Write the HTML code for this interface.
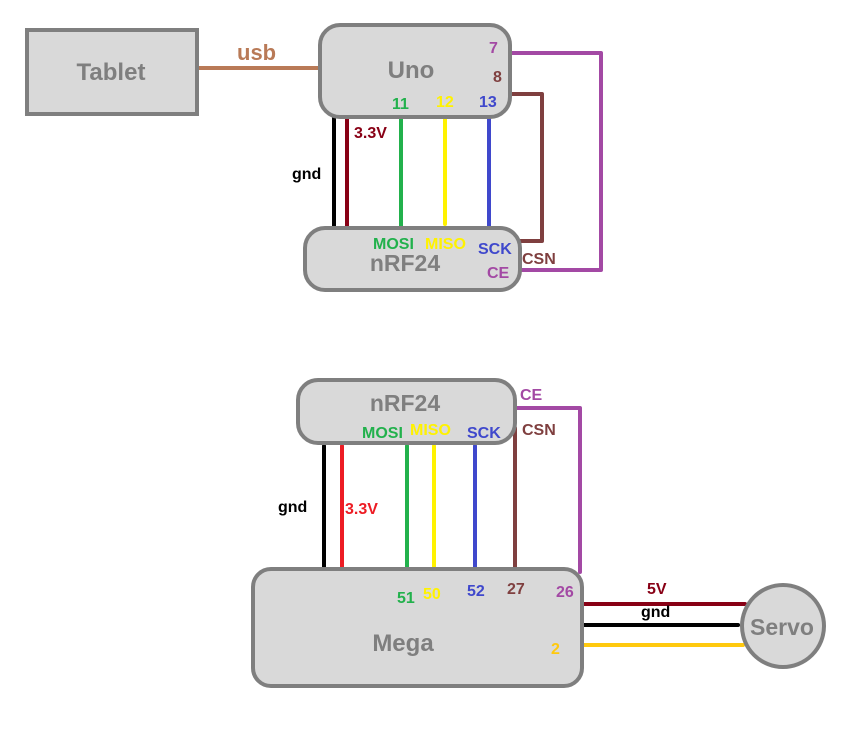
<!DOCTYPE html>
<html><head><meta charset="utf-8"><style>
html,body{margin:0;padding:0;background:#fff;}
svg{display:block;}
text{font-family:"Liberation Sans",sans-serif;}
</style></head><body>
<svg width="856" height="754" viewBox="0 0 856 754" xmlns="http://www.w3.org/2000/svg">
<g stroke-width="4" fill="none" stroke-linecap="round" stroke-linejoin="round">
<!-- top -->
<line x1="197" y1="68" x2="320" y2="68" stroke="#b97a57"/>
<polyline points="508,53 601,53 601,270 518,270" stroke="#a349a4"/>
<polyline points="508,94 542,94 542,241 518,241" stroke="#7f3f3f"/>
<line x1="334" y1="117" x2="334" y2="228" stroke="#000"/>
<line x1="347" y1="117" x2="347" y2="229" stroke="#880015"/>
<line x1="401" y1="117" x2="401" y2="230" stroke="#22b14c"/>
<line x1="445" y1="113" x2="445" y2="224" stroke="#fff200"/>
<line x1="489" y1="117" x2="489" y2="230" stroke="#3f48cc"/>
<!-- bottom -->
<line x1="324" y1="446" x2="324" y2="571" stroke="#000"/>
<line x1="342" y1="446" x2="342" y2="571" stroke="#ed1c24"/>
<line x1="407" y1="446" x2="407" y2="568" stroke="#22b14c"/>
<line x1="434" y1="446" x2="434" y2="567" stroke="#fff200"/>
<line x1="475" y1="446" x2="475" y2="568" stroke="#3f48cc"/>
<line x1="515" y1="428" x2="515" y2="568" stroke="#7f3f3f"/>
<polyline points="486,408 580,408 580,572" stroke="#a349a4"/>
<line x1="582" y1="604" x2="745" y2="604" stroke="#880015"/>
<line x1="584" y1="625" x2="738" y2="625" stroke="#000"/>
<line x1="582" y1="645" x2="743" y2="645" stroke="#ffc90e"/>
</g>
<g fill="#d9d9d9" stroke="#7f7f7f" stroke-width="4">
<rect x="27" y="30" width="170" height="84"/>
<rect x="320" y="25" width="190" height="92" rx="20"/>
<rect x="305" y="228" width="215" height="62" rx="20"/>
<rect x="298" y="380" width="217" height="63" rx="20"/>
<rect x="253" y="569" width="329" height="117" rx="18"/>
<circle cx="783" cy="626" r="41"/>
</g>
<g font-weight="bold" fill="#7f7f7f" font-size="24" text-anchor="middle">
<text x="111" y="80">Tablet</text>
<text x="411" y="78">Uno</text>
<text x="405" y="271" font-size="23">nRF24</text>
<text x="405" y="411" font-size="23">nRF24</text>
<text x="403" y="651">Mega</text>
<text x="782" y="635" font-size="23">Servo</text>
</g>
<g font-size="16" font-weight="bold">
<text x="237" y="60" font-size="22" fill="#b97a57">usb</text>
<text x="489" y="53" fill="#a349a4">7</text>
<text x="493" y="82" fill="#7f3f3f">8</text>
<text x="392" y="109" fill="#22b14c">11</text>
<text x="436" y="107" fill="#fff200">12</text>
<text x="479" y="107" fill="#3f48cc">13</text>
<text x="354" y="138" fill="#880015">3.3V</text>
<text x="292" y="179" fill="#000">gnd</text>
<text x="373" y="249" fill="#22b14c">MOSI</text>
<text x="425" y="249" fill="#fff200">MISO</text>
<text x="478" y="254" fill="#3f48cc">SCK</text>
<text x="522" y="264" fill="#7f3f3f">CSN</text>
<text x="487" y="278" fill="#a349a4">CE</text>
<text x="520" y="400" fill="#a349a4">CE</text>
<text x="522" y="435" fill="#7f3f3f">CSN</text>
<text x="362" y="438" fill="#22b14c">MOSI</text>
<text x="410" y="435" fill="#fff200">MISO</text>
<text x="467" y="438" fill="#3f48cc">SCK</text>
<text x="278" y="512" fill="#000">gnd</text>
<text x="345" y="514" fill="#ed1c24">3.3V</text>
<text x="397" y="603" fill="#22b14c">51</text>
<text x="423" y="599" fill="#fff200">50</text>
<text x="467" y="596" fill="#3f48cc">52</text>
<text x="507" y="594" fill="#7f3f3f">27</text>
<text x="556" y="597" fill="#a349a4">26</text>
<text x="647" y="594" fill="#880015">5V</text>
<text x="641" y="617" fill="#000">gnd</text>
<text x="551" y="654" fill="#ffc90e">2</text>
</g>
</svg>
</body></html>
